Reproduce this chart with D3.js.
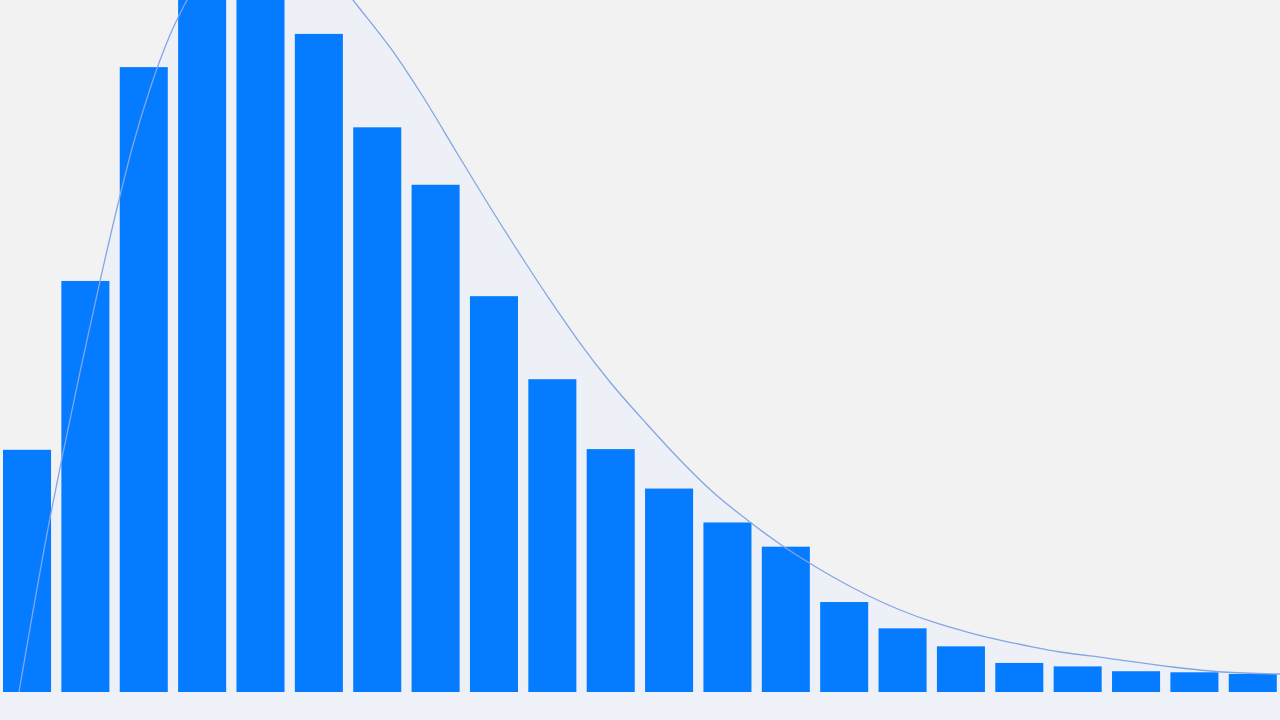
<!DOCTYPE html>
<html>
<head>
<meta charset="utf-8">
<script src="https://cdn.jsdelivr.net/npm/d3@7"></script>
<style>
  html, body { margin: 0; padding: 0; background: #f2f2f2; overflow: hidden; }
  svg { display: block; }
</style>
</head>
<body>
<svg id="chart" width="1280" height="720"></svg>
<script>
// ---- data ----
const bins = ["1","2","3","4","5","6","7","8","9","10","11","12","13","14","15","16","17","18","19","20","21","22"];
const counts = [35.0, 59.4, 90.3, 106, 108, 95.1, 81.6, 73.3, 57.2, 45.2, 35.1, 29.4, 24.5, 21.0, 13.0, 9.2, 6.6, 4.2, 3.7, 3.0, 2.85, 2.6];
// fitted density curve: x in bin units, y in count units
const curveX = [0.274, 0.822, 1.011, 1.319, 1.662, 1.970, 2.227, 2.518, 2.861, 3.152, 3.546, 4.060, 4.574, 5.088, 5.602, 5.996, 6.750, 7.178, 7.778, 8.343, 8.909, 9.371, 9.885, 10.40, 11.03, 11.60, 12.16, 12.75, 13.31, 13.65, 14.22, 14.80, 15.37, 15.93, 16.52, 17.08, 17.65, 18.11, 18.91, 20.04, 20.90, 21.88];
const curveY = [0, 25.87, 33.82, 46.24, 59.39, 70.52, 79.05, 87.14, 94.94, 100.0, 105.8, 109.5, 110.8, 109.0, 104.3, 100.0, 91.76, 86.27, 77.89, 70.09, 62.57, 56.65, 50.43, 44.80, 38.73, 33.53, 28.90, 24.86, 21.39, 19.51, 16.62, 14.02, 11.85, 10.12, 8.67, 7.51, 6.50, 5.78, 4.91, 3.61, 2.89, 2.60];

// ---- layout ----
const W = 1280, H = 720;
const baseY = 692;
const svg = d3.select("#chart");

const x = d3.scaleBand().domain(bins).range([3, 1276.8]).paddingInner(0.177).paddingOuter(0);
const xc = d3.scaleLinear().domain([0, bins.length]).range([3, 3 + x.step() * bins.length]);
const y = d3.scaleLinear().domain([0, 100]).range([baseY, 0]);

svg.append("defs").append("clipPath").attr("id", "clip")
  .append("rect").attr("x", 0).attr("y", 0).attr("width", W).attr("height", baseY);

svg.append("rect").attr("width", W).attr("height", H).attr("fill", "#f2f2f2");

const pts = curveX.map((v, i) => [v, curveY[i]]);
const cv = d3.curveMonotoneX;

const g = svg.append("g").attr("clip-path", "url(#clip)");

g.append("path")
  .datum(pts)
  .attr("fill", "#edf0f6")
  .attr("d", d3.area().x(d => xc(d[0])).y0(baseY).y1(d => y(d[1])).curve(cv));

g.selectAll("rect.bar")
  .data(counts)
  .enter().append("rect")
  .attr("class", "bar")
  .attr("x", (d, i) => x(bins[i]))
  .attr("width", x.bandwidth())
  .attr("y", d => y(d))
  .attr("height", d => baseY - y(d))
  .attr("fill", "#057cff");

g.append("path")
  .datum(pts)
  .attr("fill", "none")
  .attr("stroke", "#84a6e6")
  .attr("stroke-width", 1.3)
  .attr("d", d3.line().x(d => xc(d[0])).y(d => y(d[1])).curve(cv));

// bottom axis strip
svg.append("rect").attr("x", 0).attr("y", baseY).attr("width", W).attr("height", H - baseY).attr("fill", "#eef1f7");
</script>
</body>
</html>
